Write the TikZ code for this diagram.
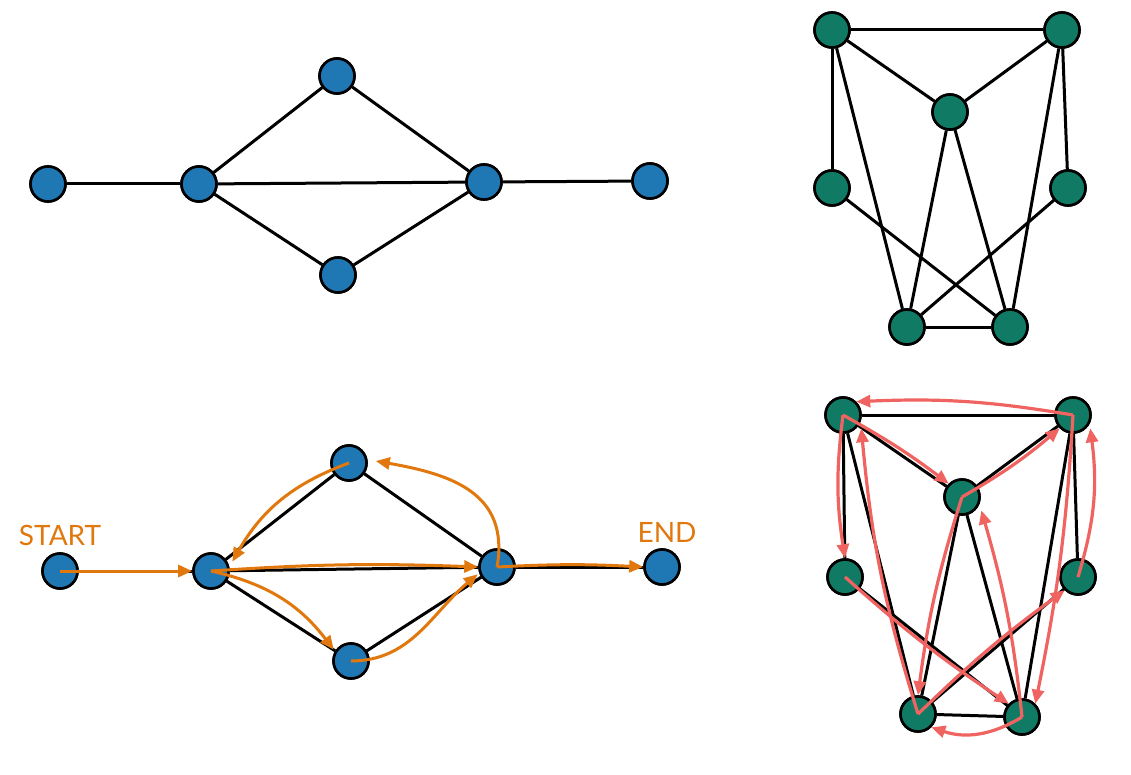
\documentclass[tikz,border=0pt]{standalone}
\usepackage{fontspec}
\setmainfont{Lato}
\usetikzlibrary{arrows.meta}
\definecolor{nblue}{HTML}{1F77B4}
\definecolor{ngreen}{HTML}{117A65}
\definecolor{norange}{HTML}{E0780E}
\definecolor{nred}{HTML}{EF6461}
\begin{document}
\begin{tikzpicture}[x=1pt,y=-1pt,
  bn/.style={circle,draw=black,line width=2.6pt,fill=nblue,minimum size=35pt,inner sep=0pt},
  gn/.style={circle,draw=black,line width=2.6pt,fill=ngreen,minimum size=35pt,inner sep=0pt},
  ed/.style={line width=3pt},
  op/.style={draw=norange,line width=3pt,-{Triangle[length=14pt,width=12pt]}},
  rp/.style={draw=nred,line width=3.2pt,-{Triangle[length=14pt,width=12pt]}},
  lab/.style={text=norange,font=\fontsize{28}{30}\selectfont}]
\useasboundingbox (0,0) rectangle (1131,775);
% top left
\node[bn] (A) at (48,184) {};
\node[bn] (B) at (199,184) {};
\node[bn] (C) at (337,76) {};
\node[bn] (D) at (484,182) {};
\node[bn] (E) at (338,275) {};
\node[bn] (F) at (650,181) {};
\begin{scope}[on background layer/.style={}]
\end{scope}
% top right
\node[gn] (a) at (832,30) {};
\node[gn] (b) at (1062,30) {};
\node[gn] (c) at (950,112) {};
\node[gn] (d) at (832,188) {};
\node[gn] (e) at (1068,188) {};
\node[gn] (f) at (907,327) {};
\node[gn] (g) at (1010,327) {};
% bottom left
\node[bn] (A2) at (60,571) {};
\node[bn] (B2) at (211,571) {};
\node[bn] (C2) at (349,463) {};
\node[bn] (D2) at (497,567) {};
\node[bn] (E2) at (351,661) {};
\node[bn] (F2) at (662,567) {};
% bottom right
\node[gn] (a2) at (843,415) {};
\node[gn] (b2) at (1073,415) {};
\node[gn] (c2) at (962,497) {};
\node[gn] (d2) at (845,577) {};
\node[gn] (e2) at (1078,577) {};
\node[gn] (f2) at (918,714) {};
\node[gn] (g2) at (1022,717) {};
% edges
\foreach \u/\v in {A/B,B/C,B/D,B/E,C/D,E/D,D/F,
  a/b,a/c,c/b,a/d,a/f,b/e,b/g,c/f,c/g,d/g,e/f,f/g,
  A2/B2,B2/C2,B2/D2,B2/E2,C2/D2,E2/D2,D2/F2,
  a2/b2,a2/c2,c2/b2,a2/d2,a2/f2,b2/e2,b2/g2,c2/f2,c2/g2,d2/g2,e2/f2,f2/g2}
  \draw[ed] (\u) -- (\v);
% redraw nodes on top
\foreach \n/\s in {A/bn,B/bn,C/bn,D/bn,E/bn,F/bn,A2/bn,B2/bn,C2/bn,D2/bn,E2/bn,F2/bn,
  a/gn,b/gn,c/gn,d/gn,e/gn,f/gn,g/gn,a2/gn,b2/gn,c2/gn,d2/gn,e2/gn,f2/gn,g2/gn}
  \node[\s] at (\n) {};
% orange path
\node[lab] (st) at (60,535) {START};
\node[lab] (en) at (667,532) {END};
\draw[op] (A2.center) to[out=0,in=180] (B2.west);
\draw[op] (B2.center) to[bend left=3] (D2.west);
\draw[op] (D2.center) to[out=80,in=-10,looseness=1.2] ([xshift=8pt,yshift=2pt]C2.east);
\draw[op] (C2.center) to[bend right=20] ([xshift=8pt,yshift=-4pt]B2.north east);
\draw[op] (B2.center) to[bend left=20] ([xshift=-4pt,yshift=-2pt]E2.north west);
\draw[op] (E2.center) to[out=0,in=-140] ([xshift=-6pt,yshift=6pt]D2.south west);
\draw[op] (D2.center) to[bend left=3] (F2.west);
% red path
\draw[rp] (a2.center) to[bend right=8] (d2.north);
\draw[rp] (d2.center) to[bend right=4] (g2.north west);
\draw[rp] (g2.center) to[bend right=5] ([xshift=6pt]c2.south east);
\draw[rp] (c2.center) to[bend right=5] (f2.north);
\draw[rp] (f2.center) to[bend left=6] ([xshift=5pt]a2.south east);
\draw[rp] (a2.center) to[bend left=4] (c2.north west);
\draw[rp] (c2.center) to[bend right=5] (b2.south west);
\draw[rp] (b2.center) to[bend left=4] (g2.north east);
\draw[rp] (g2.center) to[bend left=25] (f2.south east);
\draw[rp] (f2.center) to[bend left=4] (e2.south west);
\draw[rp] (e2.center) to[bend right=12] ([xshift=4pt]b2.south east);
\draw[rp] (b2.center) to[bend right=6] (a2.north east);
\end{tikzpicture}
\end{document}
